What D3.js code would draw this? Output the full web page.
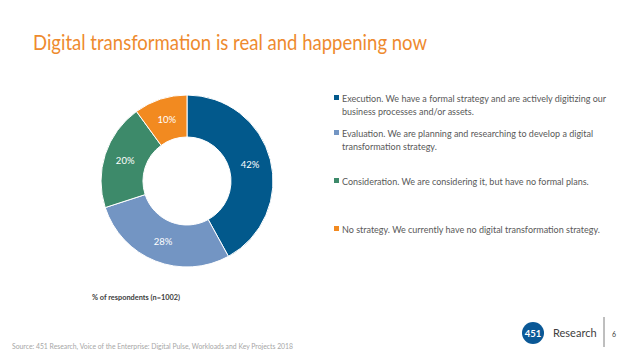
<!DOCTYPE html>
<html><head><meta charset="utf-8">
<script src="https://cdn.jsdelivr.net/npm/d3@7"></script>
<style>body{margin:0;background:#fff}svg{display:block}</style>
</head><body>
<script>
const categories = [
  ["Execution. We have a formal strategy and are actively digitizing our", "business processes and/or assets."],
  ["Evaluation. We are planning and researching to develop a digital", "transformation strategy."],
  ["Consideration. We are considering it, but have no formal plans."],
  ["No strategy. We currently have no digital transformation strategy."]
];
const values = [42, 28, 20, 10];
const colors = ["#02598c", "#7395c3", "#3d8a6a", "#f28a20"];
const title = "Digital transformation is real and happening now";
const subtitle = "% of respondents (n=1002)";
const source = "Source: 451 Research, Voice of the Enterprise: Digital Pulse, Workloads and Key Projects 2018";

const W = 638, H = 359;
const font = "Lato, 'Open Sans', sans-serif";
const svg = d3.select("body").append("svg").attr("width", W).attr("height", H);

svg.append("text").attr("x", 33).attr("y", 50).attr("font-family", font)
  .attr("font-size", 21).attr("fill", "#ee8a2e")
  .attr("textLength", 394).attr("lengthAdjust", "spacingAndGlyphs").text(title);

const cx = 187, cy = 181, rO = 86, rI = 44;
const pie = d3.pie().sort(null).value(d => d)(values);
const arc = d3.arc().innerRadius(rI).outerRadius(rO);
const g = svg.append("g").attr("transform", `translate(${cx},${cy})`);
g.selectAll("path").data(pie).join("path").attr("d", arc)
  .attr("fill", (d, i) => colors[i]).attr("stroke", "#fff").attr("stroke-width", 1);
const lblArc = d3.arc().innerRadius((rI + rO) / 2).outerRadius((rI + rO) / 2);
g.selectAll("text").data(pie).join("text")
  .attr("transform", d => `translate(${lblArc.centroid(d)})`)
  .attr("text-anchor", "middle").attr("dy", "0.35em")
  .attr("font-family", font).attr("font-size", 9.5).attr("fill", "#fff")
  .text(d => d.data + "%");

const legY = [101, 136, 184, 232];
const lg = svg.append("g");
categories.forEach((lines, i) => {
  lg.append("rect").attr("x", 334).attr("y", legY[i] - 6).attr("width", 5).attr("height", 5).attr("fill", colors[i]);
  lines.forEach((t, j) => {
    lg.append("text").attr("x", 342).attr("y", legY[i] + j * 13 + 0.5).attr("font-family", font)
      .attr("font-size", 9).attr("fill", "#595959").text(t);
  });
});

svg.append("text").attr("x", 92).attr("y", 300).attr("font-family", font).attr("font-size", 8)
  .attr("font-weight", "bold").attr("fill", "#404040")
  .attr("textLength", 88).attr("lengthAdjust", "spacingAndGlyphs").text(subtitle);
svg.append("text").attr("x", 12).attr("y", 349).attr("font-family", font).attr("font-size", 7.5)
  .attr("fill", "#a6a6a6").attr("textLength", 281).attr("lengthAdjust", "spacingAndGlyphs").text(source);

// logo
svg.append("circle").attr("cx", 533).attr("cy", 333).attr("r", 11).attr("fill", "#0a5896");
svg.append("text").attr("x", 533).attr("y", 336.5).attr("text-anchor", "middle").attr("font-family", font)
  .attr("font-size", 9.5).attr("font-weight", "bold").attr("fill", "#fff").text("451");
svg.append("text").attr("x", 553).attr("y", 337).attr("font-family", font)
  .attr("font-size", 11).attr("fill", "#404040").text("Research");
svg.append("line").attr("x1", 604).attr("x2", 604).attr("y1", 317).attr("y2", 347).attr("stroke", "#7f7f7f").attr("stroke-width", 1);
svg.append("text").attr("x", 612).attr("y", 337).attr("font-family", font)
  .attr("font-size", 7).attr("fill", "#404040").text("6");
</script>
</body></html>
